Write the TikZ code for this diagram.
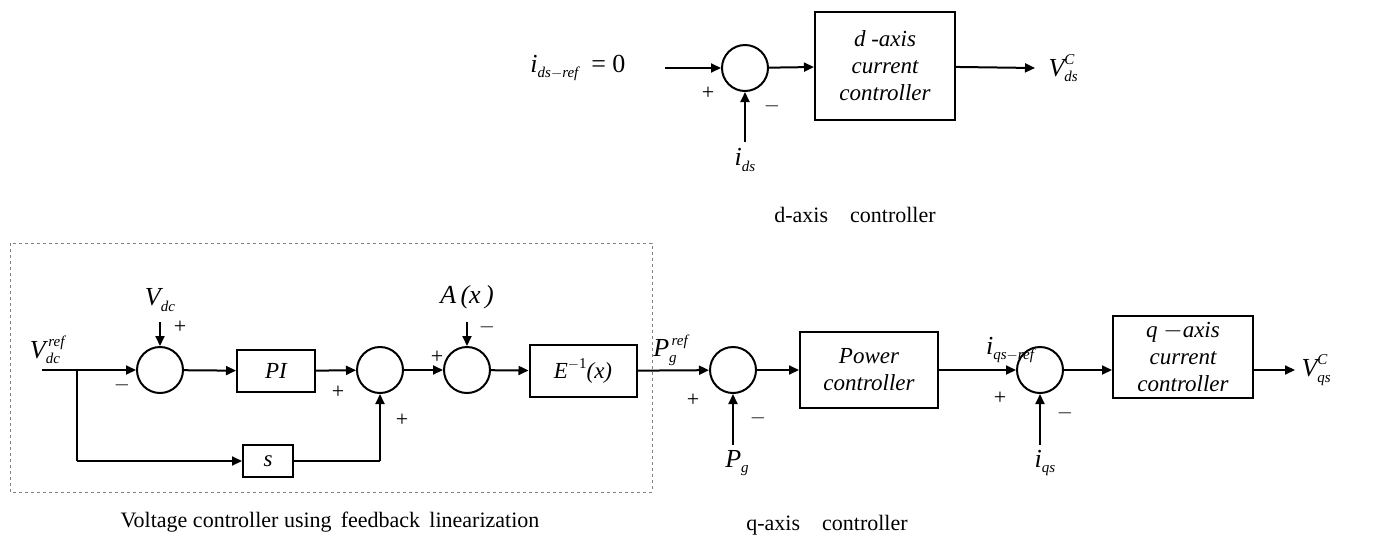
\documentclass[tikz,border=0pt]{standalone}
\usepackage{fontspec}
\setmainfont{Liberation Serif}
\usetikzlibrary{arrows.meta}
\newcommand{\sbx}[1]{\raisebox{-0.45ex}{\fontsize{15}{16}\selectfont\itshape #1}}
\newcommand{\spx}[1]{\raisebox{1.0ex}{\fontsize{15}{16}\selectfont\itshape #1}}
\newcommand{\bth}[2]{\makebox[0pt][l]{\spx{#2}}\sbx{#1}}
\begin{document}
\begin{tikzpicture}[x=1pt,y=-1pt,
  sum/.style={draw,line width=2pt,ellipse/.try,circle,minimum size=46pt,inner sep=0},
  blk/.style={draw,line width=2pt,font=\fontsize{23}{27}\selectfont\itshape,align=center,inner sep=2pt},
  w/.style={line width=2pt,-{Triangle[length=10pt,width=9pt]}},
  l/.style={line width=2pt},
  lab/.style={font=\fontsize{26}{30}\selectfont\itshape},
  sg/.style={font=\fontsize{22}{24}\selectfont},
  captxt/.style={font=\fontsize{22}{26}\selectfont}]
\useasboundingbox (0,0) rectangle (1393,550);
% top
\node[lab] (idr) at (578,68) {i\sbx{ds$-$ref} \ \upshape= 0};
\coordinate (idrE) at (665,68);
\node[sum] (s0) at (745,68) {};
\node[blk,minimum width=140pt,minimum height=108pt] (dbox) at (885,66) {d -axis\\current\\controller};
\coordinate (vdsE) at (1035,68);
\node[lab,anchor=west] (vds) at (1045,68) {V\bth{ds}{C}};
\node[lab] (ids) at (745,160) {i\sbx{ds}};
\draw[w] (idrE) -- (s0);
\draw[w] (s0) -- (dbox);
\draw[w] (dbox) -- (vdsE);
\draw[w] (745,142) -- (s0);
\node[sg] (p0) at (708,93) {+};
\node[sg] (m0) at (772,106) {$-$};
\node[captxt] (dcap) at (855,215) {d-axis\quad controller};
% dashed box
\draw[dashed,gray,line width=0.7pt] (10,243) rectangle (652,492);
\node[captxt] (vcap) at (330,522) {Voltage controller using\, feedback\, linearization};
\node[lab] (vref) at (45,350) {V\bth{dc}{\,ref}};
\coordinate (vs) at (42,370);
\coordinate (br) at (77,370);
\coordinate (brb) at (77,461);
\node[sum] (s1) at (160,370) {};
\node[blk,minimum width=78pt,minimum height=42pt] (pi) at (276,371) {PI};
\node[sum] (s2) at (380,370) {};
\node[sum] (s3) at (467,370) {};
\node[blk,minimum width=107pt,minimum height=52pt] (ebox) at (583,371) {E\spx{\upshape$-$1}(x)};
\node[blk,minimum width=50pt,minimum height=32pt] (sbox) at (268,461) {s};
\coordinate (s2b) at (380,461);
\node[lab] (vdc) at (160,300) {V\sbx{dc}};
\node[lab] (ax) at (467,297) {A\,(x\,)};
\draw[l] (vs) -- (br);
\draw[w] (br) -- (s1);
\draw[w] (s1) -- (pi);
\draw[w] (pi) -- (s2);
\draw[w] (s2) -- (s3);
\draw[w] (s3) -- (ebox);
\draw[l] (br) -- (brb);
\draw[w] (brb) -- (sbox);
\draw[l] (sbox) -- (s2b);
\draw[w] (s2b) -- (s2);
\draw[w] (160,322) -- (s1);
\draw[w] (467,322) -- (s3);
\node[sg] at (180,327) {+};
\node[sg] at (122,385) {$-$};
\node[sg] at (338,392) {+};
\node[sg] at (402,420) {+};
\node[sg] at (437,357) {+};
\node[sg] at (487,327) {$-$};
% q-axis
\node[lab] (pref) at (665,350) {P\bth{g}{\,ref}};
\node[sum] (s4) at (733,370) {};
\node[blk,minimum width=138pt,minimum height=76pt] (pbox) at (869,370) {Power\\controller};
\node[lab] (iqr) at (1010,350) {i\sbx{qs$-$ref}};
\node[sum] (s5) at (1040,370) {};
\node[blk,minimum width=140pt,minimum height=82pt] (qbox) at (1183,357) {q $-$axis\\current\\controller};
\coordinate (vqsE) at (1295,370);
\node[lab,anchor=west] (vqs) at (1298,370) {V\bth{qs}{C}};
\node[lab] (pg) at (737,463) {P\sbx{g}};
\node[lab] (iqs) at (1045,463) {i\sbx{qs}};
\draw[w] (ebox) -- (s4);
\draw[w] (s4) -- (pbox);
\draw[w] (pbox) -- (s5);
\draw[w] (s5) -- (s5-|qbox.west);
\draw[w] (s5-|qbox.east) -- (vqsE);
\draw[w] (733,445) -- (s4);
\draw[w] (1040,445) -- (s5);
\node[sg] at (693,400) {+};
\node[sg] at (758,418) {$-$};
\node[sg] at (1000,398) {+};
\node[sg] at (1065,413) {$-$};
\node[captxt] (qcap) at (827,525) {q-axis\quad controller};
\end{tikzpicture}
\end{document}
